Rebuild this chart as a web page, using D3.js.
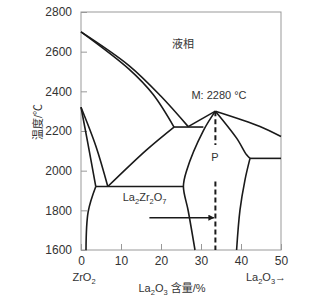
<!DOCTYPE html>
<html>
<head>
<meta charset="utf-8">
<script src="https://cdn.jsdelivr.net/npm/d3@7"></script>
<style>
  body { margin: 0; background: #fff; }
  text { font-family: "Liberation Sans", Arial, "Noto Sans CJK SC", sans-serif; fill: #333; }
</style>
</head>
<body>
<div id="chart"></div>
<script>
// ZrO2 - La2O3 phase diagram
var svgWidth = 329;
var svgHeight = 295;

var margin = { top: 12, right: 48, bottom: 45, left: 81 };
var width = svgWidth - margin.left - margin.right;
var height = svgHeight - margin.top - margin.bottom;

// tick labels
var xTicks = [0, 10, 20, 30, 40, 50];
var yTicks = [1600, 1800, 2000, 2200, 2400, 2600, 2800];

// phase boundaries, [La2O3 %, temperature]
var upperLiquidus = [[0, 2700], [12, 2530], [20, 2375], [26.8, 2222]];
var lowerLiquidus = [[0, 2700], [12, 2512], [18, 2385], [23.25, 2220]];
var liquidusToM = [[26.8, 2222], [33.6, 2300]];
var rightLiquidus = [[33.6, 2300], [44.75, 2223], [50, 2172]];
var shelf2220 = [[23.25, 2220], [30.6, 2220]];
var leftSolidusP = [[33.6, 2300], [30.6, 2202], [26.4, 2000], [25.6, 1920], [26.8, 1798], [28.5, 1600]];
var rightSolidusP = [[33.6, 2300], [38.9, 2164], [41.4, 2080], [42.25, 2062]];
var rightBoundaryP = [[42.25, 2062], [41, 1954], [39.75, 1802], [38.9, 1600]];
var shelf2060 = [[42.25, 2062], [50, 2062]];
var zro2Outer = [[0, 2320], [1.6, 2150], [3.7, 1920]];
var zro2Lower = [[3.7, 1920], [1.8, 1793], [1.25, 1600]];
var zro2Inner = [[0, 2320], [3.75, 2122], [6.7, 1920]];
var eutecticLine = [[6.7, 1920], [16.4, 2105], [23.25, 2220]];
var shelf1920 = [[3.7, 1920], [25.6, 1920]];

// composition line of La2Zr2O7 (dashed), split around the "P" label
var dashUpper = [[33.6, 2300], [33.6, 2130]];
var dashLower = [[33.6, 1945], [33.6, 1600]];
var arrowLine = [[17.1, 1763], [33.2, 1763]];

var svg = d3.select("#chart")
    .append("svg")
    .attr("width", svgWidth)
    .attr("height", svgHeight);

var chartGroup = svg.append("g")
    .attr("transform", `translate(${margin.left}, ${margin.top})`);

var xScale = d3.scaleLinear().domain([0, 50]).range([0, width]);
var yScale = d3.scaleLinear().domain([1600, 2800]).range([height, 0]);

// frame
chartGroup.append("rect")
    .attr("x", 0)
    .attr("y", 0)
    .attr("width", width)
    .attr("height", height)
    .attr("fill", "none")
    .attr("stroke", "#999")
    .attr("stroke-width", 1);

var leftAxis = d3.axisLeft(yScale).tickValues(yTicks).tickFormat(d3.format("d"))
    .tickSizeInner(-6).tickSizeOuter(0).tickPadding(9);
var bottomAxis = d3.axisBottom(xScale).tickValues(xTicks).tickFormat(d3.format("d"))
    .tickSizeInner(-6).tickSizeOuter(0).tickPadding(6);

var yAxisG = chartGroup.append("g").call(leftAxis);
var xAxisG = chartGroup.append("g").attr("transform", `translate(0, ${height})`).call(bottomAxis);

[yAxisG, xAxisG].forEach(function (g) {
    g.select(".domain").remove();
    g.selectAll(".tick line").attr("stroke", "#999");
    g.selectAll(".tick text")
        .attr("font-size", "12px")
        .attr("fill", "#333")
        .style("font-family", "\"Liberation Sans\", Arial, sans-serif");
});

var smooth = d3.line()
    .x(d => xScale(d[0]))
    .y(d => yScale(d[1]))
    .curve(d3.curveCatmullRom.alpha(0.5));

var straight = d3.line()
    .x(d => xScale(d[0]))
    .y(d => yScale(d[1]));

var curves = [upperLiquidus, lowerLiquidus, rightLiquidus, leftSolidusP, rightSolidusP,
    rightBoundaryP, zro2Outer, zro2Lower, zro2Inner, eutecticLine];
var lines = [liquidusToM, shelf2220, shelf2060, shelf1920];

chartGroup.selectAll(".curve")
    .data(curves)
    .enter()
    .append("path")
    .attr("class", "curve")
    .attr("d", smooth)
    .attr("fill", "none")
    .attr("stroke", "#1a1a1a")
    .attr("stroke-width", 1.6)
    .attr("stroke-linejoin", "round");

chartGroup.selectAll(".straight")
    .data(lines)
    .enter()
    .append("path")
    .attr("class", "straight")
    .attr("d", straight)
    .attr("fill", "none")
    .attr("stroke", "#1a1a1a")
    .attr("stroke-width", 1.6);

chartGroup.selectAll(".dash")
    .data([dashUpper, dashLower])
    .enter()
    .append("path")
    .attr("class", "dash")
    .attr("d", straight)
    .attr("fill", "none")
    .attr("stroke", "#1a1a1a")
    .attr("stroke-width", 2)
    .attr("stroke-dasharray", "5,3");

// arrow
svg.append("defs").append("marker")
    .attr("id", "head")
    .attr("viewBox", "0 0 10 10")
    .attr("refX", 9)
    .attr("refY", 5)
    .attr("markerWidth", 8)
    .attr("markerHeight", 6)
    .attr("markerUnits", "userSpaceOnUse")
    .attr("orient", "auto")
    .append("path")
    .attr("d", "M0,0L10,5L0,10Z")
    .attr("fill", "#1a1a1a");

chartGroup.append("path")
    .attr("d", straight(arrowLine))
    .attr("stroke", "#1a1a1a")
    .attr("stroke-width", 1.5)
    .attr("marker-end", "url(#head)");

// labels inside the plot
var plain = [
    { x: 25.5, t: 2636, text: "液相" },
    { x: 34.5, t: 2383, text: "M: 2280 °C" },
    { x: 33.5, t: 2067, text: "P" }
];

chartGroup.selectAll(".note")
    .data(plain)
    .enter()
    .append("text")
    .attr("class", "note")
    .attr("x", d => xScale(d.x))
    .attr("y", d => yScale(d.t))
    .attr("dy", "0.36em")
    .attr("text-anchor", "middle")
    .attr("font-size", "11px")
    .text(d => d.text);

// text with subscripts: list of [string, isSub]
function subText(sel, parts, size) {
    var shift = 2.5;
    var down = false;
    sel.attr("font-size", size + "px");
    parts.forEach(function (p) {
        var dy = 0;
        if (p[1] && !down) { dy = shift; down = true; }
        if (!p[1] && down) { dy = -shift; down = false; }
        sel.append("tspan")
            .attr("font-size", p[1] ? (size * 0.68).toFixed(1) + "px" : size + "px")
            .attr("dy", dy)
            .text(p[0]);
    });
}

var la2zr2o7 = chartGroup.append("text")
    .attr("x", xScale(15.9))
    .attr("y", yScale(1847))
    .attr("dy", "0.36em")
    .attr("text-anchor", "middle");
subText(la2zr2o7, [["La", 0], ["2", 1], ["Zr", 0], ["2", 1], ["O", 0], ["7", 1]], 11);

// axis titles
var zro2 = svg.append("text")
    .attr("x", 84)
    .attr("y", 281)
    .attr("text-anchor", "middle");
subText(zro2, [["ZrO", 0], ["2", 1]], 11);

var la2o3 = svg.append("text")
    .attr("x", 266)
    .attr("y", 281)
    .attr("text-anchor", "middle");
subText(la2o3, [["La", 0], ["2", 1], ["O", 0], ["3", 1], ["\u2192", 0]], 11);

var xTitle = svg.append("text")
    .attr("x", 172)
    .attr("y", 292)
    .attr("text-anchor", "middle");
subText(xTitle, [["La", 0], ["2", 1], ["O", 0], ["3", 1], [" 含量/%", 0]], 11);

svg.append("text")
    .attr("transform", "translate(42, 122) rotate(-90)")
    .attr("text-anchor", "middle")
    .attr("font-size", "11px")
    .text("温度/℃");
</script>
</body>
</html>
